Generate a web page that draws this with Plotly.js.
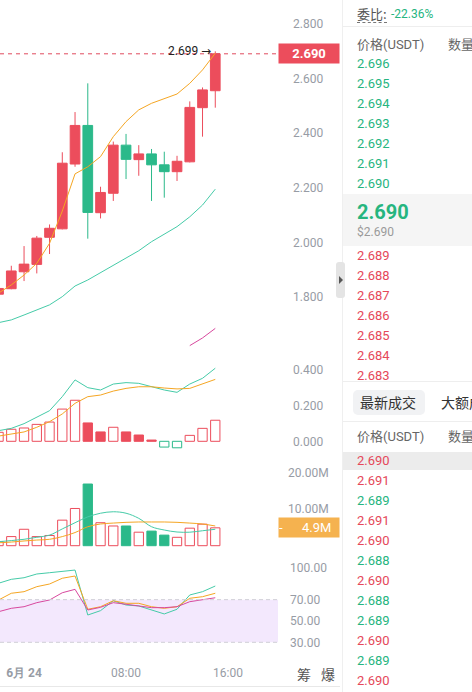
<!DOCTYPE html>
<html><head><meta charset="utf-8">
<script src="https://cdn.plot.ly/plotly-3.0.1.min.js"></script>
<style>
html,body{margin:0;padding:0;width:472px;height:692px;overflow:hidden;background:#fff;font-family:Roboto,'Noto Sans CJK SC',sans-serif;}
#chart{position:absolute;left:0;top:0;width:340px;height:692px;}
#book{position:absolute;left:342px;top:0;width:130px;height:692px;overflow:hidden;border-left:1px solid #efefef;background:#fff;}
.t{position:absolute;white-space:nowrap;}
.row{position:absolute;left:14px;height:20px;line-height:20px;font-size:13px;white-space:nowrap;}
.hline{position:absolute;left:0;width:130px;height:1px;background:#eeeeee;}
#tab{position:absolute;left:336px;top:262px;width:9px;height:36px;background:#e4e4e4;border-radius:3px;z-index:5;}
#tab:after{content:'';position:absolute;left:3px;top:14px;border-left:4px solid #555;border-top:4px solid transparent;border-bottom:4px solid transparent;}
.btm{position:absolute;top:664px;font-size:14px;color:#555;font-family:'Noto Sans CJK SC',sans-serif;}
#bline{position:absolute;left:0;top:686px;width:340px;height:1px;background:#e8e8e8;}
</style></head><body>
<div id="chart"></div>
<div id="book">
  <div class="t" style="left:14px;top:5px;font-size:13px;color:#555;font-family:'Noto Sans CJK SC',sans-serif;border-bottom:1px dashed #777;line-height:17px;">委比:</div>
  <div class="t" id="ratio" style="left:48px;top:6px;font-size:12px;color:#26b57f;line-height:16px;"></div>
  <div class="hline" style="top:26px;"></div>
  <div class="t" style="left:14px;top:36px;font-size:13px;color:#666;line-height:18px;">价格(USDT)</div>
  <div class="t" style="left:105px;top:36px;font-size:13px;color:#666;line-height:18px;">数量</div>
  <div id="asks"></div>
  <div style="position:absolute;left:0;top:194px;width:130px;height:52px;background:#f5f5f5;"></div>
  <div class="t" id="mid" style="left:14px;top:200px;font-size:20px;font-weight:bold;color:#26b57f;line-height:24px;"></div>
  <div class="t" id="midusd" style="left:14px;top:225px;font-size:12px;color:#9a9a9a;line-height:15px;"></div>
  <div id="bids"></div>
  <div class="hline" style="top:381px;"></div>
  <div style="position:absolute;left:10px;top:390px;width:72px;height:25px;background:#f1f2f4;border-radius:5px;"></div>
  <div class="t" style="left:17px;top:393px;font-size:14px;color:#333;line-height:19px;font-family:'Noto Sans CJK SC',sans-serif;">最新成交</div>
  <div class="t" style="left:98px;top:393px;font-size:14px;color:#333;line-height:19px;font-family:'Noto Sans CJK SC',sans-serif;">大额成交</div>
  <div class="hline" style="top:421px;"></div>
  <div class="t" style="left:14px;top:428px;font-size:13px;color:#666;line-height:18px;">价格(USDT)</div>
  <div class="t" style="left:105px;top:428px;font-size:13px;color:#666;line-height:18px;">数量</div>
  <div style="position:absolute;left:0;top:452px;width:130px;height:18px;background:#ececec;"></div>
  <div id="trades"></div>
</div>
<div id="tab"></div>
<div class="btm" style="left:297px;">筹</div>
<div class="btm" style="left:321px;">爆</div>
<div id="bline"></div>
<script>
// ---------- data ----------
const times = ['2024-06-23 22:00','2024-06-23 23:00','2024-06-24 00:00','2024-06-24 01:00','2024-06-24 02:00','2024-06-24 03:00',
  '2024-06-24 04:00','2024-06-24 05:00','2024-06-24 06:00','2024-06-24 07:00','2024-06-24 08:00','2024-06-24 09:00',
  '2024-06-24 10:00','2024-06-24 11:00','2024-06-24 12:00','2024-06-24 13:00','2024-06-24 14:00','2024-06-24 15:00'];
const open  = [1.811,1.831,1.893,1.920,2.019,2.050,2.287,2.428,2.109,2.180,2.356,2.303,2.324,2.284,2.259,2.295,2.493,2.555];
const high  = [1.840,1.915,1.987,2.024,2.066,2.330,2.477,2.582,2.204,2.369,2.397,2.356,2.342,2.332,2.317,2.516,2.567,2.699];
const low   = [1.806,1.829,1.859,1.887,1.958,2.048,2.277,2.014,2.088,2.152,2.232,2.244,2.152,2.164,2.225,2.293,2.387,2.493];
const close = [1.832,1.896,1.921,2.016,2.052,2.290,2.428,2.110,2.183,2.356,2.304,2.324,2.284,2.259,2.297,2.494,2.558,2.690];
const ma7   = [1.815,1.845,1.881,1.924,1.997,2.115,2.251,2.277,2.314,2.387,2.442,2.485,2.509,2.527,2.543,2.582,2.631,2.692];
const ma25  = [1.707,1.717,1.735,1.753,1.772,1.802,1.841,1.863,1.890,1.918,1.942,1.970,2.003,2.030,2.058,2.094,2.137,2.195];
const ma99  = [null,null,null,null,null,null,null,null,null,null,null,null,null,null,null,1.623,1.651,1.686];
const macdHist = [0.050,0.067,0.074,0.094,0.107,0.179,0.228,0.102,0.052,0.078,0.052,0.035,0.007,-0.032,-0.036,0.033,0.072,0.117];
const dif   = [0.059,0.072,0.098,0.133,0.170,0.248,0.341,0.298,0.285,0.318,0.326,0.322,0.303,0.285,0.272,0.318,0.350,0.406];
const dea   = [0.029,0.039,0.052,0.078,0.109,0.152,0.211,0.248,0.257,0.279,0.294,0.303,0.303,0.296,0.291,0.294,0.318,0.344];
const volumeM = [1.1,2.5,4.5,2.5,2.8,7.0,10.2,16.9,6.3,5.4,5.4,3.7,4.0,2.9,2.3,4.8,5.9,4.9];
const volMa5  = [1.1,1.4,1.75,2.3,2.9,4.6,6.3,7.9,8.9,9.3,8.9,7.5,5.2,4.3,3.75,3.7,4.1,4.5];
const volMa10 = [0.8,1.0,1.3,1.55,1.75,2.5,3.6,5.2,5.95,6.2,6.4,6.5,6.5,6.5,6.4,6.2,5.95,5.4];
const rsi6  = [85.4,89.1,90.6,94.1,95.3,96.2,97.8,55.6,59.7,69.0,65.0,64.1,60.3,56.6,61.0,74.4,77.5,82.8];
const rsi12 = [69.7,76.0,77.5,82.2,84.7,90.1,92.2,61.0,63.4,69.0,66.6,66.6,63.4,61.9,63.4,71.3,72.8,76.0];
const rsi24 = [58.7,61.9,63.4,67.2,69.7,76.5,79.7,60.3,62.8,67.2,65.7,64.3,62.5,62.5,63.4,68.1,69.7,71.8];
const lastPrice = 2.690;
const highMark = 2.699;
const lastVolM = 4.9;
const priceTicks = [1.8,2.0,2.2,2.4,2.6,2.8];
const macdTicks = [0,0.2,0.4];
const volTicks = [10,20];
const rsiTicks = [30,50,70,100];
const xTickVals = ['2024-06-24 00:00','2024-06-24 08:00','2024-06-24 16:00'];
const xTickText = ['<b>6月 24</b>','08:00','16:00'];
const bookRatio = '-22.36%';
const askPrices = ['2.696','2.695','2.694','2.693','2.692','2.691','2.690'];
const bidPrices = ['2.689','2.688','2.687','2.686','2.685','2.684','2.683'];
const tradePrices = ['2.690','2.691','2.689','2.691','2.690','2.688','2.690','2.688','2.689','2.690','2.689','2.690'];
const tradeUp = [true,true,false,true,true,false,true,false,false,true,false,true];

// ---------- styles ----------
const RED='#ec4d5c', GREEN='#2bb98a', ORANGE='#f5a623', TEAL='#45cba8', PINK='#d8489e';
const tickFont={family:'Roboto, sans-serif',size:12,color:'#979ca5'};

const volColor = open.map((o,i)=> close[i]>=o ? '#ffffff' : GREEN);
const volLine  = open.map((o,i)=> close[i]>=o ? RED : GREEN);
const macdFill = macdHist.map((v,i)=>{const p=i>0?macdHist[i-1]:0; if(v>=0) return v>=p?'#ffffff':RED; return v<=p?'#ffffff':GREEN;});
const macdLine = macdHist.map(v=> v>=0?RED:GREEN);

const traces=[
 {type:'candlestick',x:times,open:open,high:high,low:low,close:close,xaxis:'x',yaxis:'y',whiskerwidth:0,
  increasing:{line:{color:RED,width:1},fillcolor:RED},decreasing:{line:{color:GREEN,width:1},fillcolor:GREEN},hoverinfo:'skip'},
 {type:'scatter',mode:'lines',x:times,y:ma7,yaxis:'y',line:{color:ORANGE,width:1}},
 {type:'scatter',mode:'lines',x:times,y:ma25,yaxis:'y',line:{color:TEAL,width:1}},
 {type:'scatter',mode:'lines',x:times,y:ma99,yaxis:'y',line:{color:PINK,width:1}},
 {type:'bar',x:times,y:macdHist,yaxis:'y2',marker:{color:macdFill,line:{color:macdLine,width:1}}},
 {type:'scatter',mode:'lines',x:times,y:dif,yaxis:'y2',line:{color:TEAL,width:1}},
 {type:'scatter',mode:'lines',x:times,y:dea,yaxis:'y2',line:{color:ORANGE,width:1}},
 {type:'bar',x:times,y:volumeM,yaxis:'y3',marker:{color:volColor,line:{color:volLine,width:1}}},
 {type:'scatter',mode:'lines',x:times,y:volMa5,yaxis:'y3',line:{color:TEAL,width:1,shape:'spline'}},
 {type:'scatter',mode:'lines',x:times,y:volMa10,yaxis:'y3',line:{color:ORANGE,width:1,shape:'spline'}},
 {type:'scatter',mode:'lines',x:times,y:rsi6,yaxis:'y4',line:{color:TEAL,width:1}},
 {type:'scatter',mode:'lines',x:times,y:rsi12,yaxis:'y4',line:{color:ORANGE,width:1}},
 {type:'scatter',mode:'lines',x:times,y:rsi24,yaxis:'y4',line:{color:PINK,width:1}}
];

function yax(domain,range,tickvals,fmt,extra){
  return Object.assign({domain:domain,range:range,tickvals:tickvals,tickformat:fmt,side:'right',anchor:'x',
    showgrid:false,zeroline:false,showline:false,ticks:'',tickfont:tickFont,ticklabelstandoff:14,fixedrange:true},extra||{});
}
const H=692;
const dom=(a,b)=>[1-b/H,1-a/H];
const layout={
  width:340,height:692,margin:{l:0,r:62,t:0,b:0},paper_bgcolor:'#fff',plot_bgcolor:'#fff',showlegend:false,
  boxgap:0.24,boxgroupgap:0,bargap:0.27,barmode:'overlay',
  xaxis:{type:'date',range:['2024-06-23 22:06:50','2024-06-24 19:55:12'],tickvals:xTickVals,ticktext:xTickText,
    anchor:'y4',showgrid:false,zeroline:false,showline:false,ticks:'',tickfont:tickFont,ticklabelstandoff:4,
    rangeslider:{visible:false},fixedrange:true},
  yaxis: yax(dom(0,348),[1.6143,2.8867],priceTicks,'.3f'),
  yaxis2:yax(dom(352,452),[-0.0594,0.4961],macdTicks,'.3f'),
  yaxis3:yax(dom(458,547),[-0.356,24.03],volTicks,'.2f',{ticktext:volTicks.map(v=>v.toFixed(2)+'M'),ticklabelstandoff:9}),
  yaxis4:yax(dom(556,660),[13.39,110.98],rsiTicks,'.2f',{ticklabelstandoff:11}),
  shapes:[
    {type:'rect',xref:'x domain',x0:0,x1:1,yref:'y4',y0:30,y1:70,fillcolor:'#f3e8fd',line:{width:0},layer:'below'},
    {type:'line',xref:'x domain',x0:0,x1:1,yref:'y4',y0:70,y1:70,line:{color:'#cfcfd6',width:1,dash:'4px,3px'}},
    {type:'line',xref:'x domain',x0:0,x1:1,yref:'y4',y0:30,y1:30,line:{color:'#cfcfd6',width:1,dash:'4px,3px'}},
    {type:'line',xref:'x domain',x0:0,x1:1,yref:'y',y0:lastPrice,y1:lastPrice,line:{color:'#e04a5e',width:1,dash:'4px,4px'}}
  ],
  annotations:[
    {xref:'paper',x:1,xanchor:'left',yref:'y',y:lastPrice,yanchor:'middle',text:'<b>'+lastPrice.toFixed(3)+'</b>',showarrow:false,
     bgcolor:RED,width:60,height:19,borderpad:0,font:{family:'Roboto, sans-serif',size:13,color:'#fff'}},
    {xref:'paper',x:1,xanchor:'left',yref:'y3',y:lastVolM,yanchor:'middle',text:'-      '+lastVolM.toFixed(1)+'M',showarrow:false,
     bgcolor:'#f5b24f',width:60,height:19,borderpad:0,align:'left',font:{family:'Roboto, sans-serif',size:13,color:'#fff'}},
    {xref:'x',x:times[times.length-1],xanchor:'right',xshift:-2,yref:'y',y:highMark,yanchor:'middle',text:highMark.toFixed(3)+' →',
     showarrow:false,font:{family:'Roboto, DejaVu Sans, sans-serif',size:12,color:'#222'}}
  ]
};
Plotly.newPlot('chart',traces,layout,{staticPlot:true,displayModeBar:false});

// ---------- order book ----------
const GR='#26b57f', RD='#e5485a';
document.getElementById('ratio').textContent=bookRatio;
document.getElementById('mid').textContent=lastPrice.toFixed(3);
document.getElementById('midusd').textContent='$'+lastPrice.toFixed(3);
function rows(id,list,top,colorFn){
  const el=document.getElementById(id);
  list.forEach((p,i)=>{const d=document.createElement('div');d.className='row';d.style.top=(top+i*20-10)+'px';
    d.style.color=colorFn(i);d.textContent=p;el.appendChild(d);});
}
rows('asks',askPrices,64,()=>GR);
rows('bids',bidPrices,256,()=>RD);
rows('trades',tradePrices,461,i=>tradeUp[i]?RD:GR);
</script>
</body></html>
